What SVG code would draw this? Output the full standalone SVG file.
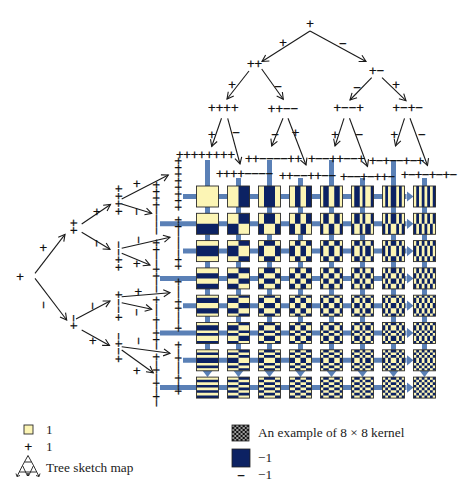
<svg xmlns="http://www.w3.org/2000/svg" width="474" height="499" viewBox="0 0 474 499">
<style>
.t{font-family:"Liberation Sans",Arial,sans-serif;font-size:13px;fill:#111;stroke:#111;stroke-width:0.25}
.m{text-anchor:middle}
.a{fill:none;stroke:#1a1a1a;stroke-width:1.1;marker-end:url(#ar)}
.bar{fill:none;stroke:#5a80b6;stroke-width:5;marker-end:url(#bh)}
.bg{fill:#fcf5b5}
.bd{fill:none;stroke:#2a2a2a;stroke-width:0.9}
.n{fill:#0c2263}
.lg{font-family:"Liberation Serif","Times New Roman",serif;font-size:13.3px;fill:#222}
</style>
<defs>
<marker id="ar" markerUnits="userSpaceOnUse" markerWidth="10" markerHeight="10" refX="7" refY="4" orient="auto" overflow="visible"><path d="M0.5,0.5 L7,4 L0.5,7.5" fill="none" stroke="#1a1a1a" stroke-width="1.1"/></marker>
<marker id="bh" markerUnits="userSpaceOnUse" markerWidth="8" markerHeight="12" refX="0" refY="5.5" orient="auto"><path d="M0,0 L7,5.5 L0,11 z" fill="#5a80b6"/></marker>
<pattern id="chk" patternUnits="userSpaceOnUse" x="232" y="425" width="4.25" height="4"><rect width="4.25" height="4" fill="#111"/><rect width="2.125" height="2" fill="#9a9a9a"/><rect x="2.125" y="2" width="2.125" height="2" fill="#9a9a9a"/></pattern>
<g id="cn1" class="n"><rect x="11" width="11" height="21"/></g>
<g id="cn2" class="n"><rect x="5.5" width="11" height="21"/></g>
<g id="cn3" class="n"><rect x="5.5" width="5.5" height="21"/><rect x="16.5" width="5.5" height="21"/></g>
<g id="cn4" class="n"><rect x="2.75" width="5.5" height="21"/><rect x="13.75" width="5.5" height="21"/></g>
<g id="cn5" class="n"><rect x="2.75" width="5.5" height="21"/><rect x="11" width="2.75" height="21"/><rect x="19.25" width="2.75" height="21"/></g>
<g id="cn6" class="n"><rect x="2.75" width="2.75" height="21"/><rect x="8.25" width="5.5" height="21"/><rect x="16.5" width="2.75" height="21"/></g>
<g id="cn7" class="n"><rect x="2.75" width="2.75" height="21"/><rect x="8.25" width="2.75" height="21"/><rect x="13.75" width="2.75" height="21"/><rect x="19.25" width="2.75" height="21"/></g>
<g id="cp0" class="n"><rect width="22" height="21"/></g>
<g id="cp1" class="n"><rect width="11" height="21"/></g>
<g id="cp2" class="n"><rect width="5.5" height="21"/><rect x="16.5" width="5.5" height="21"/></g>
<g id="cp3" class="n"><rect width="5.5" height="21"/><rect x="11" width="5.5" height="21"/></g>
<g id="cp4" class="n"><rect width="2.75" height="21"/><rect x="8.25" width="5.5" height="21"/><rect x="19.25" width="2.75" height="21"/></g>
<g id="cp5" class="n"><rect width="2.75" height="21"/><rect x="8.25" width="2.75" height="21"/><rect x="13.75" width="5.5" height="21"/></g>
<g id="cp6" class="n"><rect width="2.75" height="21"/><rect x="5.5" width="2.75" height="21"/><rect x="13.75" width="2.75" height="21"/><rect x="19.25" width="2.75" height="21"/></g>
<g id="cp7" class="n"><rect width="2.75" height="21"/><rect x="5.5" width="2.75" height="21"/><rect x="11" width="2.75" height="21"/><rect x="16.5" width="2.75" height="21"/></g>
<clipPath id="rp1"><rect width="22" height="10.5"/></clipPath>
<clipPath id="rp2"><rect width="22" height="5.25"/><rect y="15.75" width="22" height="5.25"/></clipPath>
<clipPath id="rp3"><rect width="22" height="5.25"/><rect y="10.5" width="22" height="5.25"/></clipPath>
<clipPath id="rp4"><rect width="22" height="2.625"/><rect y="7.875" width="22" height="5.25"/><rect y="18.375" width="22" height="2.625"/></clipPath>
<clipPath id="rp5"><rect width="22" height="2.625"/><rect y="7.875" width="22" height="2.625"/><rect y="13.125" width="22" height="5.25"/></clipPath>
<clipPath id="rp6"><rect width="22" height="2.625"/><rect y="5.25" width="22" height="2.625"/><rect y="13.125" width="22" height="2.625"/><rect y="18.375" width="22" height="2.625"/></clipPath>
<clipPath id="rp7"><rect width="22" height="2.625"/><rect y="5.25" width="22" height="2.625"/><rect y="10.5" width="22" height="2.625"/><rect y="15.75" width="22" height="2.625"/></clipPath>
<clipPath id="rn1"><rect y="10.5" width="22" height="10.5"/></clipPath>
<clipPath id="rn2"><rect y="5.25" width="22" height="10.5"/></clipPath>
<clipPath id="rn3"><rect y="5.25" width="22" height="5.25"/><rect y="15.75" width="22" height="5.25"/></clipPath>
<clipPath id="rn4"><rect y="2.625" width="22" height="5.25"/><rect y="13.125" width="22" height="5.25"/></clipPath>
<clipPath id="rn5"><rect y="2.625" width="22" height="5.25"/><rect y="10.5" width="22" height="2.625"/><rect y="18.375" width="22" height="2.625"/></clipPath>
<clipPath id="rn6"><rect y="2.625" width="22" height="2.625"/><rect y="7.875" width="22" height="5.25"/><rect y="15.75" width="22" height="2.625"/></clipPath>
<clipPath id="rn7"><rect y="2.625" width="22" height="2.625"/><rect y="7.875" width="22" height="2.625"/><rect y="13.125" width="22" height="2.625"/><rect y="18.375" width="22" height="2.625"/></clipPath>
</defs>
<rect width="474" height="499" fill="#fff"/>

<g id="connectors">
<line class="bar" x1="207.5" y1="160" x2="207.5" y2="370.1"/>
<line class="bar" x1="238.5" y1="178" x2="238.5" y2="370.1"/>
<line class="bar" x1="269.5" y1="160" x2="269.5" y2="370.1"/>
<line class="bar" x1="300.5" y1="178" x2="300.5" y2="370.1"/>
<line class="bar" x1="331.5" y1="160" x2="331.5" y2="370.1"/>
<line class="bar" x1="362.5" y1="178" x2="362.5" y2="370.1"/>
<line class="bar" x1="393.5" y1="160" x2="393.5" y2="370.1"/>
<line class="bar" x1="424.5" y1="178" x2="424.5" y2="370.1"/>
<line class="bar" x1="183" y1="196.5" x2="406.5" y2="196.5"/>
<line class="bar" x1="160" y1="223.8" x2="406.5" y2="223.8"/>
<line class="bar" x1="183" y1="251.1" x2="406.5" y2="251.1"/>
<line class="bar" x1="160" y1="278.4" x2="406.5" y2="278.4"/>
<line class="bar" x1="183" y1="305.7" x2="406.5" y2="305.7"/>
<line class="bar" x1="160" y1="333" x2="406.5" y2="333"/>
<line class="bar" x1="183" y1="360.3" x2="406.5" y2="360.3"/>
<line class="bar" x1="160" y1="387.6" x2="406.5" y2="387.6"/>
<line class="a" x1="310" y1="31" x2="262" y2="61.5"/>
<line class="a" x1="310" y1="31" x2="366" y2="61.5"/>
<line class="a" x1="249" y1="71" x2="227" y2="99"/>
<line class="a" x1="261.7" y1="69" x2="283.3" y2="99.3"/>
<line class="a" x1="371.7" y1="77.7" x2="350" y2="100"/>
<line class="a" x1="382" y1="77.7" x2="406" y2="100.7"/>
<line class="a" x1="221.5" y1="118.3" x2="211.7" y2="146.5"/>
<line class="a" x1="227.7" y1="118.3" x2="240" y2="164"/>
<line class="a" x1="283" y1="118.3" x2="271.7" y2="146"/>
<line class="a" x1="288" y1="118.3" x2="306" y2="165"/>
<line class="a" x1="344" y1="118.3" x2="335" y2="146"/>
<line class="a" x1="349.5" y1="118.3" x2="367.5" y2="166.5"/>
<line class="a" x1="404.5" y1="118.3" x2="395.5" y2="146"/>
<line class="a" x1="410" y1="118.3" x2="427.5" y2="165.5"/>
<line class="a" x1="35" y1="273.3" x2="65" y2="234.3"/>
<line class="a" x1="35" y1="278.3" x2="66.7" y2="320"/>
<line class="a" x1="81.7" y1="224" x2="110.5" y2="204.5"/>
<line class="a" x1="81.7" y1="232.3" x2="110" y2="249.3"/>
<line class="a" x1="76" y1="319" x2="110" y2="301"/>
<line class="a" x1="81.7" y1="330" x2="109.5" y2="345.5"/>
<line class="a" x1="121.7" y1="199" x2="168.3" y2="175"/>
<line class="a" x1="121.7" y1="204" x2="151.7" y2="213.3"/>
<line class="a" x1="121.7" y1="248.3" x2="170" y2="237.3"/>
<line class="a" x1="121.7" y1="253.3" x2="150" y2="265"/>
<line class="a" x1="121.7" y1="296.7" x2="170" y2="292.7"/>
<line class="a" x1="121.7" y1="302.7" x2="151.7" y2="309.3"/>
<line class="a" x1="121.7" y1="346.7" x2="170" y2="353.3"/>
<line class="a" x1="121.7" y1="350" x2="153.3" y2="372.7"/>
</g>

<g id="kernels">
<g id="k00" transform="translate(196.5,186)"><rect class="bg" width="22" height="21"/><rect class="bd" width="22" height="21"/></g>
<g id="k01" transform="translate(227.5,186)"><rect class="bg" width="22" height="21"/><use href="#cn1"/><rect class="bd" width="22" height="21"/></g>
<g id="k02" transform="translate(258.5,186)"><rect class="bg" width="22" height="21"/><use href="#cn2"/><rect class="bd" width="22" height="21"/></g>
<g id="k03" transform="translate(289.5,186)"><rect class="bg" width="22" height="21"/><use href="#cn3"/><rect class="bd" width="22" height="21"/></g>
<g id="k04" transform="translate(320.5,186)"><rect class="bg" width="22" height="21"/><use href="#cn4"/><rect class="bd" width="22" height="21"/></g>
<g id="k05" transform="translate(351.5,186)"><rect class="bg" width="22" height="21"/><use href="#cn5"/><rect class="bd" width="22" height="21"/></g>
<g id="k06" transform="translate(382.5,186)"><rect class="bg" width="22" height="21"/><use href="#cn6"/><rect class="bd" width="22" height="21"/></g>
<g id="k07" transform="translate(413.5,186)"><rect class="bg" width="22" height="21"/><use href="#cn7"/><rect class="bd" width="22" height="21"/></g>

<g id="k10" transform="translate(196.5,213.3)"><rect class="bg" width="22" height="21"/><use href="#cp0" clip-path="url(#rn1)"/><rect class="bd" width="22" height="21"/></g>
<g id="k11" transform="translate(227.5,213.3)"><rect class="bg" width="22" height="21"/><use href="#cn1" clip-path="url(#rp1)"/><use href="#cp1" clip-path="url(#rn1)"/><rect class="bd" width="22" height="21"/></g>
<g id="k12" transform="translate(258.5,213.3)"><rect class="bg" width="22" height="21"/><use href="#cn2" clip-path="url(#rp1)"/><use href="#cp2" clip-path="url(#rn1)"/><rect class="bd" width="22" height="21"/></g>
<g id="k13" transform="translate(289.5,213.3)"><rect class="bg" width="22" height="21"/><use href="#cn3" clip-path="url(#rp1)"/><use href="#cp3" clip-path="url(#rn1)"/><rect class="bd" width="22" height="21"/></g>
<g id="k14" transform="translate(320.5,213.3)"><rect class="bg" width="22" height="21"/><use href="#cn4" clip-path="url(#rp1)"/><use href="#cp4" clip-path="url(#rn1)"/><rect class="bd" width="22" height="21"/></g>
<g id="k15" transform="translate(351.5,213.3)"><rect class="bg" width="22" height="21"/><use href="#cn5" clip-path="url(#rp1)"/><use href="#cp5" clip-path="url(#rn1)"/><rect class="bd" width="22" height="21"/></g>
<g id="k16" transform="translate(382.5,213.3)"><rect class="bg" width="22" height="21"/><use href="#cn6" clip-path="url(#rp1)"/><use href="#cp6" clip-path="url(#rn1)"/><rect class="bd" width="22" height="21"/></g>
<g id="k17" transform="translate(413.5,213.3)"><rect class="bg" width="22" height="21"/><use href="#cn7" clip-path="url(#rp1)"/><use href="#cp7" clip-path="url(#rn1)"/><rect class="bd" width="22" height="21"/></g>

<g id="k20" transform="translate(196.5,240.6)"><rect class="bg" width="22" height="21"/><use href="#cp0" clip-path="url(#rn2)"/><rect class="bd" width="22" height="21"/></g>
<g id="k21" transform="translate(227.5,240.6)"><rect class="bg" width="22" height="21"/><use href="#cn1" clip-path="url(#rp2)"/><use href="#cp1" clip-path="url(#rn2)"/><rect class="bd" width="22" height="21"/></g>
<g id="k22" transform="translate(258.5,240.6)"><rect class="bg" width="22" height="21"/><use href="#cn2" clip-path="url(#rp2)"/><use href="#cp2" clip-path="url(#rn2)"/><rect class="bd" width="22" height="21"/></g>
<g id="k23" transform="translate(289.5,240.6)"><rect class="bg" width="22" height="21"/><use href="#cn3" clip-path="url(#rp2)"/><use href="#cp3" clip-path="url(#rn2)"/><rect class="bd" width="22" height="21"/></g>
<g id="k24" transform="translate(320.5,240.6)"><rect class="bg" width="22" height="21"/><use href="#cn4" clip-path="url(#rp2)"/><use href="#cp4" clip-path="url(#rn2)"/><rect class="bd" width="22" height="21"/></g>
<g id="k25" transform="translate(351.5,240.6)"><rect class="bg" width="22" height="21"/><use href="#cn5" clip-path="url(#rp2)"/><use href="#cp5" clip-path="url(#rn2)"/><rect class="bd" width="22" height="21"/></g>
<g id="k26" transform="translate(382.5,240.6)"><rect class="bg" width="22" height="21"/><use href="#cn6" clip-path="url(#rp2)"/><use href="#cp6" clip-path="url(#rn2)"/><rect class="bd" width="22" height="21"/></g>
<g id="k27" transform="translate(413.5,240.6)"><rect class="bg" width="22" height="21"/><use href="#cn7" clip-path="url(#rp2)"/><use href="#cp7" clip-path="url(#rn2)"/><rect class="bd" width="22" height="21"/></g>

<g id="k30" transform="translate(196.5,267.9)"><rect class="bg" width="22" height="21"/><use href="#cp0" clip-path="url(#rn3)"/><rect class="bd" width="22" height="21"/></g>
<g id="k31" transform="translate(227.5,267.9)"><rect class="bg" width="22" height="21"/><use href="#cn1" clip-path="url(#rp3)"/><use href="#cp1" clip-path="url(#rn3)"/><rect class="bd" width="22" height="21"/></g>
<g id="k32" transform="translate(258.5,267.9)"><rect class="bg" width="22" height="21"/><use href="#cn2" clip-path="url(#rp3)"/><use href="#cp2" clip-path="url(#rn3)"/><rect class="bd" width="22" height="21"/></g>
<g id="k33" transform="translate(289.5,267.9)"><rect class="bg" width="22" height="21"/><use href="#cn3" clip-path="url(#rp3)"/><use href="#cp3" clip-path="url(#rn3)"/><rect class="bd" width="22" height="21"/></g>
<g id="k34" transform="translate(320.5,267.9)"><rect class="bg" width="22" height="21"/><use href="#cn4" clip-path="url(#rp3)"/><use href="#cp4" clip-path="url(#rn3)"/><rect class="bd" width="22" height="21"/></g>
<g id="k35" transform="translate(351.5,267.9)"><rect class="bg" width="22" height="21"/><use href="#cn5" clip-path="url(#rp3)"/><use href="#cp5" clip-path="url(#rn3)"/><rect class="bd" width="22" height="21"/></g>
<g id="k36" transform="translate(382.5,267.9)"><rect class="bg" width="22" height="21"/><use href="#cn6" clip-path="url(#rp3)"/><use href="#cp6" clip-path="url(#rn3)"/><rect class="bd" width="22" height="21"/></g>
<g id="k37" transform="translate(413.5,267.9)"><rect class="bg" width="22" height="21"/><use href="#cn7" clip-path="url(#rp3)"/><use href="#cp7" clip-path="url(#rn3)"/><rect class="bd" width="22" height="21"/></g>

<g id="k40" transform="translate(196.5,295.2)"><rect class="bg" width="22" height="21"/><use href="#cp0" clip-path="url(#rn4)"/><rect class="bd" width="22" height="21"/></g>
<g id="k41" transform="translate(227.5,295.2)"><rect class="bg" width="22" height="21"/><use href="#cn1" clip-path="url(#rp4)"/><use href="#cp1" clip-path="url(#rn4)"/><rect class="bd" width="22" height="21"/></g>
<g id="k42" transform="translate(258.5,295.2)"><rect class="bg" width="22" height="21"/><use href="#cn2" clip-path="url(#rp4)"/><use href="#cp2" clip-path="url(#rn4)"/><rect class="bd" width="22" height="21"/></g>
<g id="k43" transform="translate(289.5,295.2)"><rect class="bg" width="22" height="21"/><use href="#cn3" clip-path="url(#rp4)"/><use href="#cp3" clip-path="url(#rn4)"/><rect class="bd" width="22" height="21"/></g>
<g id="k44" transform="translate(320.5,295.2)"><rect class="bg" width="22" height="21"/><use href="#cn4" clip-path="url(#rp4)"/><use href="#cp4" clip-path="url(#rn4)"/><rect class="bd" width="22" height="21"/></g>
<g id="k45" transform="translate(351.5,295.2)"><rect class="bg" width="22" height="21"/><use href="#cn5" clip-path="url(#rp4)"/><use href="#cp5" clip-path="url(#rn4)"/><rect class="bd" width="22" height="21"/></g>
<g id="k46" transform="translate(382.5,295.2)"><rect class="bg" width="22" height="21"/><use href="#cn6" clip-path="url(#rp4)"/><use href="#cp6" clip-path="url(#rn4)"/><rect class="bd" width="22" height="21"/></g>
<g id="k47" transform="translate(413.5,295.2)"><rect class="bg" width="22" height="21"/><use href="#cn7" clip-path="url(#rp4)"/><use href="#cp7" clip-path="url(#rn4)"/><rect class="bd" width="22" height="21"/></g>

<g id="k50" transform="translate(196.5,322.5)"><rect class="bg" width="22" height="21"/><use href="#cp0" clip-path="url(#rn5)"/><rect class="bd" width="22" height="21"/></g>
<g id="k51" transform="translate(227.5,322.5)"><rect class="bg" width="22" height="21"/><use href="#cn1" clip-path="url(#rp5)"/><use href="#cp1" clip-path="url(#rn5)"/><rect class="bd" width="22" height="21"/></g>
<g id="k52" transform="translate(258.5,322.5)"><rect class="bg" width="22" height="21"/><use href="#cn2" clip-path="url(#rp5)"/><use href="#cp2" clip-path="url(#rn5)"/><rect class="bd" width="22" height="21"/></g>
<g id="k53" transform="translate(289.5,322.5)"><rect class="bg" width="22" height="21"/><use href="#cn3" clip-path="url(#rp5)"/><use href="#cp3" clip-path="url(#rn5)"/><rect class="bd" width="22" height="21"/></g>
<g id="k54" transform="translate(320.5,322.5)"><rect class="bg" width="22" height="21"/><use href="#cn4" clip-path="url(#rp5)"/><use href="#cp4" clip-path="url(#rn5)"/><rect class="bd" width="22" height="21"/></g>
<g id="k55" transform="translate(351.5,322.5)"><rect class="bg" width="22" height="21"/><use href="#cn5" clip-path="url(#rp5)"/><use href="#cp5" clip-path="url(#rn5)"/><rect class="bd" width="22" height="21"/></g>
<g id="k56" transform="translate(382.5,322.5)"><rect class="bg" width="22" height="21"/><use href="#cn6" clip-path="url(#rp5)"/><use href="#cp6" clip-path="url(#rn5)"/><rect class="bd" width="22" height="21"/></g>
<g id="k57" transform="translate(413.5,322.5)"><rect class="bg" width="22" height="21"/><use href="#cn7" clip-path="url(#rp5)"/><use href="#cp7" clip-path="url(#rn5)"/><rect class="bd" width="22" height="21"/></g>

<g id="k60" transform="translate(196.5,349.8)"><rect class="bg" width="22" height="21"/><use href="#cp0" clip-path="url(#rn6)"/><rect class="bd" width="22" height="21"/></g>
<g id="k61" transform="translate(227.5,349.8)"><rect class="bg" width="22" height="21"/><use href="#cn1" clip-path="url(#rp6)"/><use href="#cp1" clip-path="url(#rn6)"/><rect class="bd" width="22" height="21"/></g>
<g id="k62" transform="translate(258.5,349.8)"><rect class="bg" width="22" height="21"/><use href="#cn2" clip-path="url(#rp6)"/><use href="#cp2" clip-path="url(#rn6)"/><rect class="bd" width="22" height="21"/></g>
<g id="k63" transform="translate(289.5,349.8)"><rect class="bg" width="22" height="21"/><use href="#cn3" clip-path="url(#rp6)"/><use href="#cp3" clip-path="url(#rn6)"/><rect class="bd" width="22" height="21"/></g>
<g id="k64" transform="translate(320.5,349.8)"><rect class="bg" width="22" height="21"/><use href="#cn4" clip-path="url(#rp6)"/><use href="#cp4" clip-path="url(#rn6)"/><rect class="bd" width="22" height="21"/></g>
<g id="k65" transform="translate(351.5,349.8)"><rect class="bg" width="22" height="21"/><use href="#cn5" clip-path="url(#rp6)"/><use href="#cp5" clip-path="url(#rn6)"/><rect class="bd" width="22" height="21"/></g>
<g id="k66" transform="translate(382.5,349.8)"><rect class="bg" width="22" height="21"/><use href="#cn6" clip-path="url(#rp6)"/><use href="#cp6" clip-path="url(#rn6)"/><rect class="bd" width="22" height="21"/></g>
<g id="k67" transform="translate(413.5,349.8)"><rect class="bg" width="22" height="21"/><use href="#cn7" clip-path="url(#rp6)"/><use href="#cp7" clip-path="url(#rn6)"/><rect class="bd" width="22" height="21"/></g>

<g id="k70" transform="translate(196.5,377.1)"><rect class="bg" width="22" height="21"/><use href="#cp0" clip-path="url(#rn7)"/><rect class="bd" width="22" height="21"/></g>
<g id="k71" transform="translate(227.5,377.1)"><rect class="bg" width="22" height="21"/><use href="#cn1" clip-path="url(#rp7)"/><use href="#cp1" clip-path="url(#rn7)"/><rect class="bd" width="22" height="21"/></g>
<g id="k72" transform="translate(258.5,377.1)"><rect class="bg" width="22" height="21"/><use href="#cn2" clip-path="url(#rp7)"/><use href="#cp2" clip-path="url(#rn7)"/><rect class="bd" width="22" height="21"/></g>
<g id="k73" transform="translate(289.5,377.1)"><rect class="bg" width="22" height="21"/><use href="#cn3" clip-path="url(#rp7)"/><use href="#cp3" clip-path="url(#rn7)"/><rect class="bd" width="22" height="21"/></g>
<g id="k74" transform="translate(320.5,377.1)"><rect class="bg" width="22" height="21"/><use href="#cn4" clip-path="url(#rp7)"/><use href="#cp4" clip-path="url(#rn7)"/><rect class="bd" width="22" height="21"/></g>
<g id="k75" transform="translate(351.5,377.1)"><rect class="bg" width="22" height="21"/><use href="#cn5" clip-path="url(#rp7)"/><use href="#cp5" clip-path="url(#rn7)"/><rect class="bd" width="22" height="21"/></g>
<g id="k76" transform="translate(382.5,377.1)"><rect class="bg" width="22" height="21"/><use href="#cn6" clip-path="url(#rp7)"/><use href="#cp6" clip-path="url(#rn7)"/><rect class="bd" width="22" height="21"/></g>
<g id="k77" transform="translate(413.5,377.1)"><rect class="bg" width="22" height="21"/><use href="#cn7" clip-path="url(#rp7)"/><use href="#cp7" clip-path="url(#rn7)"/><rect class="bd" width="22" height="21"/></g>
</g>

<g id="top-tree">
<g id="top-n0"><text class="t m" x="310" y="27.5">+</text></g>
<g id="top-n1a"><text class="t m" x="254.5" y="67.5">++</text></g>
<g id="top-n1b"><text class="t m" x="376.5" y="74.5">+−</text></g>
<g id="top-n2a"><text class="t m" x="223.3" y="111.8">++++</text></g>
<g id="top-n2b"><text class="t m" x="283" y="112.5">++−−</text></g>
<g id="top-n2c"><text class="t m" x="348.7" y="112.2">+−−+</text></g>
<g id="top-n2d"><text class="t m" x="407.7" y="112.2">+−+−</text></g>
<g id="top-s1"><text class="t" x="176" y="158.5" textLength="59" lengthAdjust="spacing">++++++++</text></g>
<g id="top-s3"><text class="t" x="245" y="163" textLength="57" lengthAdjust="spacing">++−−−−++</text></g>
<g id="top-s5"><text class="t" x="308" y="163" textLength="57" lengthAdjust="spacing">+−−++−−+</text></g>
<g id="top-s7"><text class="t" x="369" y="164.5" textLength="55" lengthAdjust="spacing">+−+−−+−+</text></g>
<g id="top-s2"><text class="t" x="216" y="178" textLength="57" lengthAdjust="spacing">++++−−−−</text></g>
<g id="top-s4"><text class="t" x="279" y="180" textLength="57" lengthAdjust="spacing">++−−++−−</text></g>
<g id="top-s6"><text class="t" x="340" y="180.5" textLength="55" lengthAdjust="spacing">+−−+−++−</text></g>
<g id="top-s8"><text class="t" x="401" y="178.5" textLength="56" lengthAdjust="spacing">+−+−+−+−</text></g>
</g>

<g id="top-edge-labels">
<text class="t m" x="283" y="47.2">+</text>
<text class="t m" x="342.7" y="47.8">−</text>
<text class="t m" x="232" y="88.5">+</text>
<text class="t m" x="278" y="91.2">−</text>
<text class="t m" x="357" y="91.5">−</text>
<text class="t m" x="396" y="88.5">+</text>
<text class="t m" x="211.7" y="138.5">+</text>
<text class="t m" x="236" y="137.2">−</text>
<text class="t m" x="275" y="138.5">−</text>
<text class="t m" x="295.5" y="137.2">+</text>
<text class="t m" x="335" y="138.5">+</text>
<text class="t m" x="359.3" y="139">−</text>
<text class="t m" x="394.3" y="138.5">+</text>
<text class="t m" x="421.7" y="138.5">−</text>
</g>

<g id="left-tree">
<g id="left-n0"><text class="t m" x="20" y="280.5">+</text></g>
<g id="left-n1a"><text class="t m" transform="translate(77.8,226.7) rotate(-90)">++</text></g>
<g id="left-n1b"><text class="t m" transform="translate(77.8,322) rotate(-90)">+−</text></g>
<g id="left-n2a"><text class="t m" transform="translate(122.8,200) rotate(-90)">++++</text></g>
<g id="left-n2b"><text class="t m" transform="translate(122.8,256) rotate(-90)">++−−</text></g>
<g id="left-n2c"><text class="t m" transform="translate(122.8,306) rotate(-90)">+−−+</text></g>
<g id="left-n2d"><text class="t m" transform="translate(122.8,347.5) rotate(-90)">+−+−</text></g>
<g id="left-s1"><text class="t" transform="translate(173.5,157) rotate(90)" textLength="54" lengthAdjust="spacing">++++++++</text></g>
<g id="left-s3"><text class="t" transform="translate(173.5,216) rotate(90)" textLength="54" lengthAdjust="spacing">++−−−−++</text></g>
<g id="left-s5"><text class="t" transform="translate(173.5,278) rotate(90)" textLength="54" lengthAdjust="spacing">+−−++−−+</text></g>
<g id="left-s7"><text class="t" transform="translate(173.5,341) rotate(90)" textLength="54" lengthAdjust="spacing">+−+−−+−+</text></g>
<g id="left-s2"><text class="t" transform="translate(151.5,181) rotate(90)" textLength="54" lengthAdjust="spacing">++++−−−−</text></g>
<g id="left-s4"><text class="t" transform="translate(151.5,239) rotate(90)" textLength="54" lengthAdjust="spacing">++−−++−−</text></g>
<g id="left-s6"><text class="t" transform="translate(151.5,296) rotate(90)" textLength="54" lengthAdjust="spacing">+−−+−++−</text></g>
<g id="left-s8"><text class="t" transform="translate(151.5,353) rotate(90)" textLength="54" lengthAdjust="spacing">+−+−+−+−</text></g>
</g>

<g id="left-edge-labels">
<text class="t m" x="43.3" y="251.8">+</text>
<text class="t m" transform="translate(47.8,305) rotate(-90)">−</text>
<text class="t m" x="96.7" y="216.2">+</text>
<text class="t m" transform="translate(101.2,243.3) rotate(-90)">−</text>
<text class="t m" transform="translate(97.2,306) rotate(-90)">−</text>
<text class="t m" x="92.7" y="344.5">+</text>
<text class="t m" x="136.7" y="187.8">+</text>
<text class="t m" transform="translate(141.2,211.7) rotate(-90)">−</text>
<text class="t m" transform="translate(142.8,240) rotate(-90)">−</text>
<text class="t m" x="136.7" y="267.8">+</text>
<text class="t m" x="138.3" y="296.2">+</text>
<text class="t m" transform="translate(141.2,312.3) rotate(-90)">−</text>
<text class="t m" transform="translate(142.8,341) rotate(-90)">−</text>
<text class="t m" x="136.7" y="375.2">+</text>
</g>

<g id="legend">
<rect class="bg" x="24" y="425" width="9" height="9"/><rect class="bd" x="24" y="425" width="9" height="9"/>
<text class="lg" x="46" y="433.5">1</text>
<text class="t m" x="28.3" y="451">+</text>
<text class="lg" x="46" y="450.5">1</text>
<path d="M28,455.5 L22.5,465.5 M28,455.5 L33.5,465.5 M24.5,462 L31.5,462 M22.5,465.5 L17,476.5 M22.5,465.5 L27.5,476 M33.5,465.5 L28.5,476 M33.5,465.5 L39,476.5 M19.5,472 L36.5,472 M17,476.5 L16,473.5 M17,476.5 L20,475.5 M39,476.5 L40,473.5 M39,476.5 L36,475.5 M27.5,476 L28,473 M28.5,476 L28,473" fill="none" stroke="#1a1a1a" stroke-width="0.9"/>
<text class="lg" x="46" y="471.5">Tree sketch map</text>
<rect x="232" y="425" width="17" height="16" fill="url(#chk)" stroke="#222" stroke-width="0.8"/>
<text class="lg" x="258" y="436.5">An example of 8 × 8 kernel</text>
<rect class="n" x="232" y="449" width="18" height="18" stroke="#222" stroke-width="0.8"/>
<text class="lg" x="258" y="462">−1</text>
<text class="t m" x="241" y="479.5">−</text>
<text class="lg" x="258" y="479">−1</text>
</g>
</svg>
